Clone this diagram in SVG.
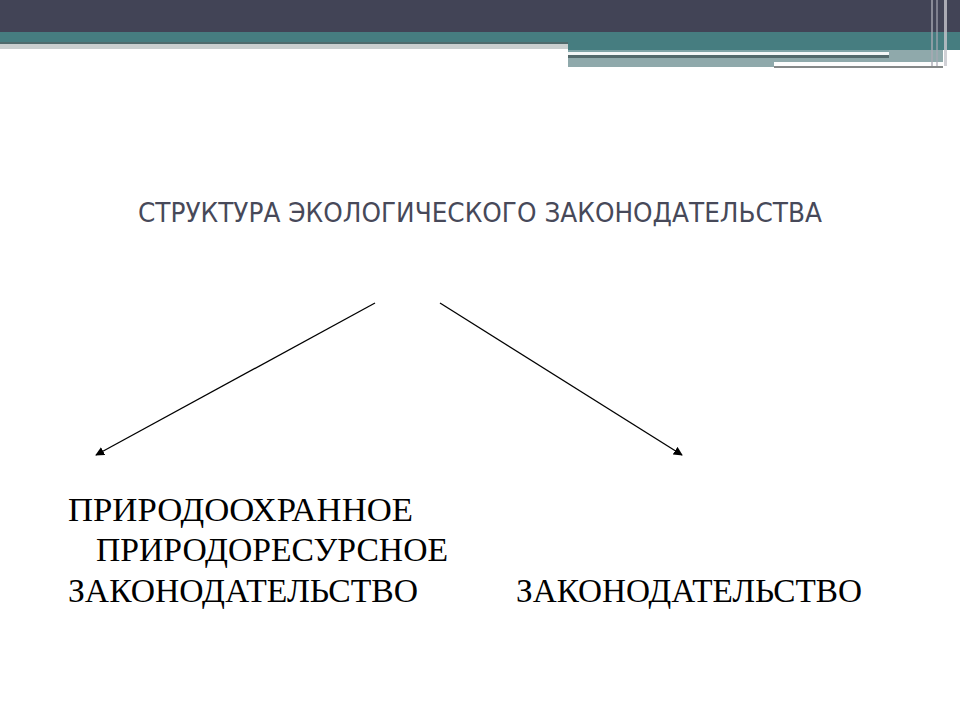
<svg xmlns="http://www.w3.org/2000/svg" width="960" height="720" viewBox="0 0 960 720">
<defs>
<style>
.title{font-family:"DejaVu Sans Condensed","Liberation Sans",sans-serif;font-size:26px;fill:#474959}
.lbl{font-family:"Liberation Serif","Times New Roman",serif;font-size:33px;fill:#000}
.conn{stroke:#000;stroke-width:1.3;fill:none;marker-end:url(#ah)}
</style>
<marker id="ah" viewBox="0 0 10 10" refX="9" refY="5" markerWidth="9" markerHeight="9" markerUnits="userSpaceOnUse" orient="auto">
<path d="M0,0 L10,5 L0,10 z" fill="#000"/>
</marker>
</defs>
<rect width="960" height="720" fill="#fff"/>
<g id="header">
<rect x="0" y="0" width="960" height="32" fill="#424456"/>
<rect x="0" y="32" width="960" height="10" fill="#467d80"/>
<rect x="0" y="42" width="568" height="2" fill="#4f6a6c"/>
<rect x="0" y="44" width="568" height="5" fill="#c9cfcf"/>
<rect x="568" y="42" width="392" height="8" fill="#467d80"/>
<rect x="568" y="50" width="375" height="2" fill="#7fa3a6"/>
<rect x="568" y="52" width="321" height="3" fill="#f4f7f7"/>
<rect x="568" y="55" width="321" height="3" fill="#546a6c"/>
<rect x="568" y="58" width="206" height="9" fill="#8fa9ab"/>
<rect x="889" y="50" width="54" height="12" fill="#8fa9ab"/>
<rect x="774" y="58" width="115" height="4" fill="#8fa9ab"/>
<rect x="774" y="62" width="169" height="4" fill="#fdfdfd"/>
<rect x="774" y="66" width="169" height="2" fill="#858888"/>
<rect x="931" y="0" width="2" height="66" fill="#a9a9b4" opacity="0.7"/>
<rect x="936" y="0" width="2" height="66" fill="#a9a9b4" opacity="0.6"/>
<rect x="944" y="0" width="3" height="66" fill="#c5c5cc" opacity="0.8"/>
</g>
<g id="title">
<text class="title" x="138" y="222" textLength="684" lengthAdjust="spacingAndGlyphs">СТРУКТУРА ЭКОЛОГИЧЕСКОГО ЗАКОНОДАТЕЛЬСТВА</text>
</g>
<g id="connectors">
<line class="conn" x1="375" y1="303" x2="96" y2="455"/>
<line class="conn" x1="440" y1="303" x2="682" y2="455"/>
</g>
<g id="left-node">
<text class="lbl" x="68" y="521" textLength="345" lengthAdjust="spacingAndGlyphs">ПРИРОДООХРАННОЕ</text>
<text class="lbl" x="68" y="602" textLength="350" lengthAdjust="spacingAndGlyphs">ЗАКОНОДАТЕЛЬСТВО</text>
</g>
<g id="right-node">
<text class="lbl" x="96" y="561" textLength="352" lengthAdjust="spacingAndGlyphs">ПРИРОДОРЕСУРСНОЕ</text>
<text class="lbl" x="516" y="602" textLength="346" lengthAdjust="spacingAndGlyphs">ЗАКОНОДАТЕЛЬСТВО</text>
</g>
</svg>
